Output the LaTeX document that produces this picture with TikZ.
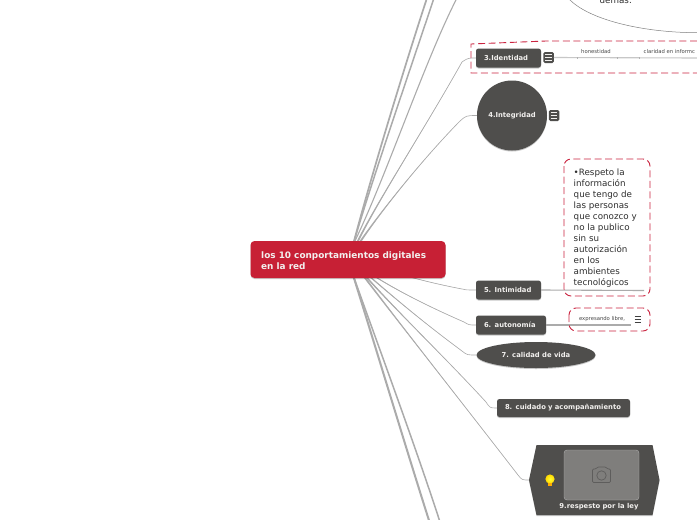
\documentclass[tikz,border=0pt]{standalone}
\usepackage{fontspec}
\setmainfont{DejaVu Sans}
\usetikzlibrary{shapes.geometric,shadows,calc}
\definecolor{nodegray}{HTML}{4F4E4C}
\definecolor{redmain}{HTML}{C72035}
\definecolor{linegray}{HTML}{ABABAB}
\definecolor{dashred}{HTML}{CA2440}
\definecolor{photogray}{HTML}{7F7E7C}
\definecolor{cameragray}{HTML}{5E5D5C}
\definecolor{softwhite}{HTML}{F2F0EE}
\tikzset{
  x=1pt,y=-1pt,
  softshadow/.style={drop shadow={shadow xshift=0pt,shadow yshift=-1pt,opacity=.22,fill=black}},
  labelfont/.style={text=softwhite,font=\fontsize{6.8}{8}\selectfont\bfseries},
  topic/.style={fill=nodegray,rounded corners=2.5pt,labelfont,inner ysep=0pt,inner xsep=8pt,align=left,minimum height=19pt,softshadow},
  thinlink/.style={draw=linegray,line width=.6pt},
  sublink/.style={draw=black!22,line width=1.1pt},
  biglink/.style={draw=linegray,line width=1.7pt},
  dashbox/.style={draw=dashred,line width=.9pt,dash pattern=on 7pt off 3.6pt,rounded corners=7pt},
  menuicon/.style={fill=nodegray,rounded corners=1.5pt,minimum width=10.5pt,minimum height=11pt,inner sep=0pt},
  smalltext/.style={font=\fontsize{5.3}{6}\selectfont,text=black!72,inner sep=0pt},
  bodytext/.style={font=\fontsize{8.75}{11}\selectfont,text=black!82,inner sep=0pt},
}
\newcommand{\menulines}[3]{\draw[#3,line width=.5pt] (#1-3.4,#2-3)--++(6.8,0) (#1-3.4,#2)--++(6.8,0) (#1-3.4,#2+3)--++(6.8,0);}
\newcommand{\conn}[7]{%
  \fill[linegray] ($(#1)+(-#7,0)$) .. controls ($(#2)+(-.5*#7,0)$) and ($(#3)+(-.15*#7,0)$) .. (#4)
     .. controls ($(#3)+(.15*#7,0)$) and ($(#2)+(.5*#7,0)$) .. ($(#1)+(#7,0)$) -- cycle;
  \draw[thinlink] (#1) .. controls (#2) and (#3) .. (#4) .. controls (#5) and (#5) .. (#6);}
\begin{document}
\begin{tikzpicture}
\useasboundingbox (0,0) rectangle (697,520);
\fill[white] (0,0) rectangle (697,520);
% top and bottom branches leaving the picture
\coordinate (upstart) at (353,245);
\coordinate (downstart) at (353,275);
\coordinate (t1) at (427,-2);
\coordinate (t2) at (434,-2);
\coordinate (t3) at (457,-2);
\coordinate (b1) at (429.5,522);
\coordinate (b2) at (440,522);
\draw[biglink] (upstart) .. controls (370,180) and (405,65) .. (t1);
\draw[biglink,line width=1.5pt] (upstart) .. controls (372,180) and (410,70) .. (t2);
\draw[biglink,line width=1.1pt] (upstart) .. controls (385,180) and (425,60) .. (t3);
\draw[biglink,line width=2pt] (downstart) .. controls (375,345) and (405,445) .. (b1);
\draw[biglink,line width=1.5pt] (downstart) .. controls (378,345) and (415,445) .. (b2);
% level-one nodes
\node[topic,text width=49pt] (n3) at (508.5,58) {3.Identidad};
\node[circle,fill=nodegray,minimum size=70pt,inner sep=0pt,labelfont,softshadow] (n4) at (512,115.5) {4.Integridad\hspace{6pt}};
\node[topic,text width=49pt] (n5) at (508.5,290) {5. Intimidad};
\node[topic,text width=54pt] (n6) at (511,325) {6. autonomía};
\node[ellipse,fill=nodegray,minimum width=119pt,minimum height=26pt,inner sep=0pt,labelfont,softshadow] (n7) at (536,355) {7. calidad de vida};
\node[topic,text width=117pt,minimum height=18pt] (n8) at (563.5,408) {8. cuidado y acompañamiento};
\fill[nodegray,softshadow] (536.5,445)--(652.5,445)--(659.5,480)--(652.5,515)--(536.5,515)--(529,480)--cycle;
\coordinate (n9) at (529,480);
% connectors from the root
\conn{356,245}{375,205}{425,128}{462,62}{468,58}{n3.west}{1.1}
\conn{358,245}{378,215}{420,162}{459,122}{466,115.5}{n4.west}{1.2}
\conn{353,262}{385,270}{420,281}{462,289}{466,290}{n5.west}{1}
\conn{353,262}{385,285}{425,305}{464,322}{469,325}{n6.west}{1.3}
\conn{353,262}{385,290}{420,320}{462,351}{467,355}{n7.west}{1.3}
\conn{353,262}{390,305}{440,352}{486,402}{490,408}{n8.west}{1.3}
\conn{353,262}{385,305}{460,400}{518,475}{522,480}{n9}{1.3}
% root
\node[fill=redmain,rounded corners=4pt,minimum width=195pt,minimum height=37pt,inner sep=0pt,softshadow] (root) at (348,259.5) {};
\node[anchor=west,text=softwhite,align=left,inner sep=0pt,font=\fontsize{8.9}{11}\selectfont\bfseries] (roottext) at (261,260.5) {los 10 conportamientos digitales\\en la red};
% 3 Identidad
\draw[dashbox,rounded corners=0pt] (697,41)--(546,41)--(471,44)--(471,73)--(697,73);
\node[menuicon] (m3) at (548.5,57.5) {};
\menulines{548.5}{57.5}{softwhite}
\coordinate (edge3) at (697,58);
\draw[sublink] (m3.east)--(edge3);
\foreach \tx in {577,617,639}{\draw[draw=black!30,line width=.4pt] (\tx,57)--(\tx,58.5);}
\node[smalltext] (h1) at (596,51.5) {honestidad};
\node[smalltext,anchor=west] (h2) at (643.5,51.5) {claridad en informc};
% top bubble
\draw[draw=black!50,line width=.5pt] (569,-1) .. controls (588,19) and (640,32.5) .. (697,32.7);
\node[bodytext,anchor=base] (dem) at (615.7,3.8) {demas.};
% 4 icon
\node[menuicon] (m4) at (554,115.5) {};
\menulines{554}{115.5}{softwhite}
% intimidad
\coordinate (end5) at (644,290.5);
\draw[sublink,draw=linegray] (n5.east)--(end5);
\draw[dashbox] (564,159) rectangle (650,296);
\node[anchor=north west,align=left,bodytext] (resp) at (573.5,169) {•Respeto la\\información\\que tengo de\\las personas\\que conozco y\\no la publico\\sin su\\autorización\\en los\\ambientes\\tecnológicos};
% autonomia
\coordinate (end6) at (631,325);
\draw[sublink,draw=linegray] (n6.east)--(end6);
\draw[dashbox] (569,308) rectangle (650,331);
\node[smalltext] (lib) at (602,319.5) {expresando libre,};
\menulines{638}{319}{black!75}
% 9
\node[fill=photogray,draw=white!55!nodegray,line width=.4pt,rounded corners=3pt,minimum width=75pt,minimum height=50pt,inner sep=0pt] (ph) at (601.5,475) {};
\draw[cameragray,line width=.7pt,rounded corners=1.2pt] (592.5,469)--(596,469)--(597.5,467)--(606,467)--(607.5,469)--(610.5,469)--(610.5,482.5)--(592.5,482.5)--cycle;
\draw[cameragray,line width=.7pt] (601.5,475.5) circle (4.7pt);
\shade[inner color=yellow!80!white,outer color=orange!30!yellow] (550,479) circle (4.6pt);
\fill[orange!65!yellow] (548,483) rectangle (552,486);
\node[labelfont,inner sep=0pt] (n9t) at (599,506.5) {9.respesto por la ley};
\end{tikzpicture}
\end{document}
